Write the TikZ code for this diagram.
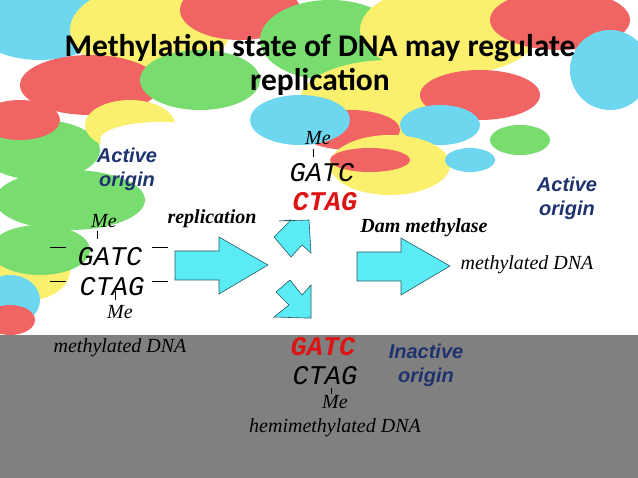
\documentclass[tikz,border=0pt]{standalone}
\usepackage{fontspec}
\setmainfont{Liberation Serif}
\newfontfamily\titlef{Carlito}
\newfontfamily\labf{Liberation Sans}
\newfontfamily\monof{Liberation Mono}
\begin{document}
\begin{tikzpicture}[x=1pt,y=-1pt,
  ttl/.style={font=\titlef\bfseries\fontsize{31.5}{36}\selectfont,text=black},
  orig/.style={font=\labf\bfseries\itshape\fontsize{20}{24}\selectfont,text={rgb,255:red,30;green,50;blue,110},align=center},
  me/.style={font=\itshape\fontsize{20}{24}\selectfont},
  seq/.style={font=\monof\itshape\fontsize{27}{30}\selectfont},
  rseq/.style={font=\monof\bfseries\itshape\fontsize{27}{30}\selectfont,text={rgb,255:red,220;green,20;blue,20}},
  lab/.style={font=\bfseries\itshape\fontsize{20}{24}\selectfont},
  dna/.style={font=\itshape\fontsize{20}{24}\selectfont},
  barrow/.style={fill={rgb,255:red,90;green,235;blue,245},draw={rgb,255:red,40;green,90;blue,100},line width=0.6pt},
  balR/.style={fill={rgb,255:red,240;green,100;blue,100}},
  balY/.style={fill={rgb,255:red,250;green,240;blue,110}},
  balG/.style={fill={rgb,255:red,120;green,220;blue,110}},
  balC/.style={fill={rgb,255:red,110;green,215;blue,240}},
  balW/.style={fill=white}]
\useasboundingbox (0,0) rectangle (638,478);
\fill[white] (0,0) rectangle (638,335);
\begin{scope}
\clip (0,0) rectangle (638,335);
\fill[balC] (40,20) ellipse (70 and 40);
\fill[balY] (150,30) ellipse (80 and 45);
\fill[balR] (240,10) ellipse (60 and 30);
\fill[balG] (330,40) ellipse (70 and 40);
\fill[balY] (450,30) ellipse (90 and 45);
\fill[balR] (560,20) ellipse (70 and 30);
\fill[balC] (610,70) ellipse (40 and 40);
\fill[balR] (90,85) ellipse (70 and 30);
\fill[balG] (200,80) ellipse (60 and 30);
\fill[balY] (390,100) ellipse (90 and 40);
\fill[balR] (480,95) ellipse (60 and 25);
\fill[balC] (440,125) ellipse (40 and 20);
\fill[balR] (350,130) ellipse (50 and 20);
\fill[balC] (300,120) ellipse (50 and 25);
\fill[balG] (40,150) ellipse (60 and 30);
\fill[balR] (20,120) ellipse (40 and 20);
\fill[balG] (70,200) ellipse (75 and 30);
\fill[balY] (30,270) ellipse (40 and 30);
\fill[balG] (40,250) ellipse (50 and 25);
\fill[balC] (10,300) ellipse (30 and 25);
\fill[balR] (10,320) ellipse (25 and 15);
\fill[balY] (130,125) ellipse (45 and 25);
\fill[balW] (160,140) ellipse (60 and 18);
\fill[balY] (390,165) ellipse (60 and 30);
\fill[balR] (370,160) ellipse (40 and 12);
\fill[balC] (470,160) ellipse (25 and 12);
\fill[balG] (520,140) ellipse (30 and 15);
\end{scope}
\fill[fill={rgb,255:red,128;green,128;blue,128}] (0,335) rectangle (638,478);
\node[ttl] (t1) at (320,48) {Methylation state of DNA may regulate};
\node[ttl] (t2) at (320,82) {replication};
\node[orig] (ao1) at (127,169) {Active\\origin};
\node[orig] (ao2) at (567,198) {Active\\origin};
\node[orig] (io) at (426,365) {Inactive\\origin};
\node[me] (me1) at (318,138) {Me};
\node[seq] (g1) at (322,173) {GATC};
\node[rseq] (c1) at (325,202) {CTAG};
\draw (313,149) -- (313,157);
\node[me] (me2) at (104,221) {Me};
\node[seq] (g2) at (110,257) {GATC};
\node[seq] (c2) at (112,287) {CTAG};
\node[me] (me3) at (120,312) {Me};
\draw (97,231) -- (97,239);
\draw (115,291) -- (115,300);
\draw[line width=1pt] (50,248) -- (66,248) (50,282) -- (66,282) (152,248) -- (168,248) (152,282) -- (168,282);
\node[lab] (rep) at (212,219) {replication};
\node[lab] (dam) at (424,228) {Dam methylase};
\node[dna] (md1) at (527,265) {methylated DNA};
\node[dna] (md2) at (120,348) {methylated DNA};
\node[rseq] (g3) at (323,347) {GATC};
\node[seq] (c3) at (325,376) {CTAG};
\node[me] (me4) at (335,402) {Me};
\draw (331,388) -- (331,394);
\node[dna] (hm) at (335,428) {hemimethylated DNA};
\draw[barrow] (175,251) -- (219,251) -- (219,237) -- (268,265) -- (219,294) -- (219,280) -- (175,280) -- cycle;
\draw[barrow] (357,252) -- (401,252) -- (401,238) -- (450,266) -- (401,295) -- (401,281) -- (357,281) -- cycle;
\draw[barrow] (274,237) -- (291,220) -- (279,221) -- (309,220) -- (311,253) -- (302,245) -- (291,257) -- cycle;
\draw[barrow] (274,317) -- (305,318) -- (311,318) -- (311,285) -- (302,295) -- (290,280) -- (276,292) -- (289,305) -- cycle;
\end{tikzpicture}
\end{document}
